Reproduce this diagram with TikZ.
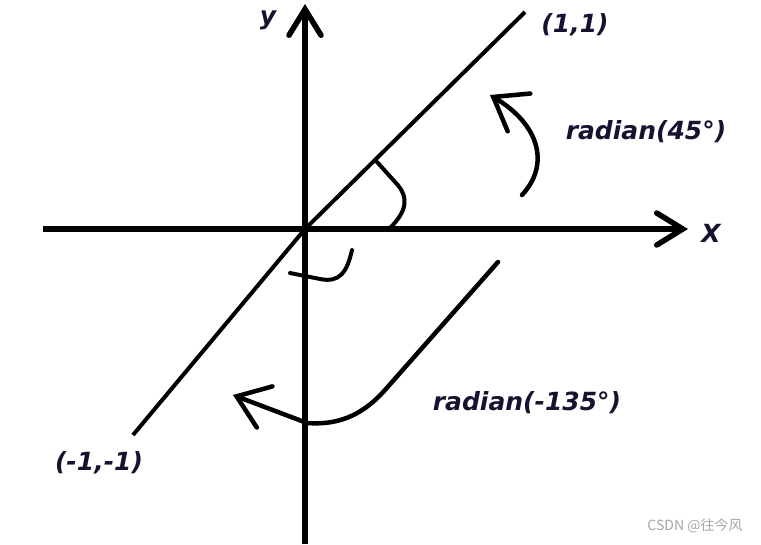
\documentclass[tikz,border=0pt]{standalone}
\usepackage{fontspec}
\setmainfont{DejaVu Sans}
\newfontfamily\cjk{Noto Sans CJK SC}
\usetikzlibrary{arrows.meta}
\definecolor{ink}{HTML}{141430}
\begin{document}
\begin{tikzpicture}[x=1pt,y=-1pt,line join=round,
  axis/.style={line width=5.5pt,line cap=butt,-{Straight Barb[length=26pt,width=32pt,line cap=round]}},
  curve/.style={line width=4pt,line cap=round},
  bigarrow/.style={line width=4.5pt,line cap=round,-{Straight Barb[length=30pt,width=44pt,line cap=round]}},
  lbl/.style={font=\fontsize{25}{28}\selectfont\bfseries\itshape,text=ink,inner sep=0pt}]
\useasboundingbox (0,0) rectangle (761,544);
\coordinate (O) at (305,229);
\coordinate (xL) at (43,229);
\coordinate (xR) at (688,229);
\coordinate (yB) at (305,544);
\coordinate (yT) at (305,4);
\coordinate (dA) at (133,435);
\coordinate (dB) at (525,12);
\draw[axis] (xL) -- (xR);
\draw[axis] (yB) -- (yT);
\draw[line width=4pt] (dA) -- (O) -- (dB);
% 45 degree angle mark
\coordinate (a1) at (377,162);
\coordinate (a2) at (390,228);
\draw[curve] (a1) -- (396,183) .. controls (410,198) and (406,212) .. (a2);
% -135 small mark
\coordinate (b1) at (352,250);
\coordinate (b2) at (290,273);
\draw[curve] (b1) .. controls (347,272) and (340,283) .. (320,279) -- (b2);
% big arrow
\coordinate (c1) at (498,262);
\coordinate (c2) at (233,395);
\draw[bigarrow] (c1) -- (385,390) .. controls (360,418) and (335,425) .. (307,423) -- (c2);
% upper arrow
\coordinate (d1) at (522,195);
\coordinate (d2) at (490,95);
\draw[bigarrow] (d1) .. controls (550,165) and (540,125) .. (d2);
% labels
\node[lbl] (ly) at (268,20) {y};
\node[lbl] (l11) at (575,25) {(1,1)};
\node[lbl] (l45) at (646,132) {radian(45°)};
\node[lbl] (lx) at (711,233) {X};
\node[lbl] (l135) at (527,403) {radian(-135°)};
\node[lbl] (lmm) at (99,463) {(-1,-1)};
\node[font=\cjk\fontsize{14}{16}\selectfont,text=gray!70,inner sep=0pt] (wm) at (695,526) {CSDN @往今风};
\end{tikzpicture}
\end{document}
